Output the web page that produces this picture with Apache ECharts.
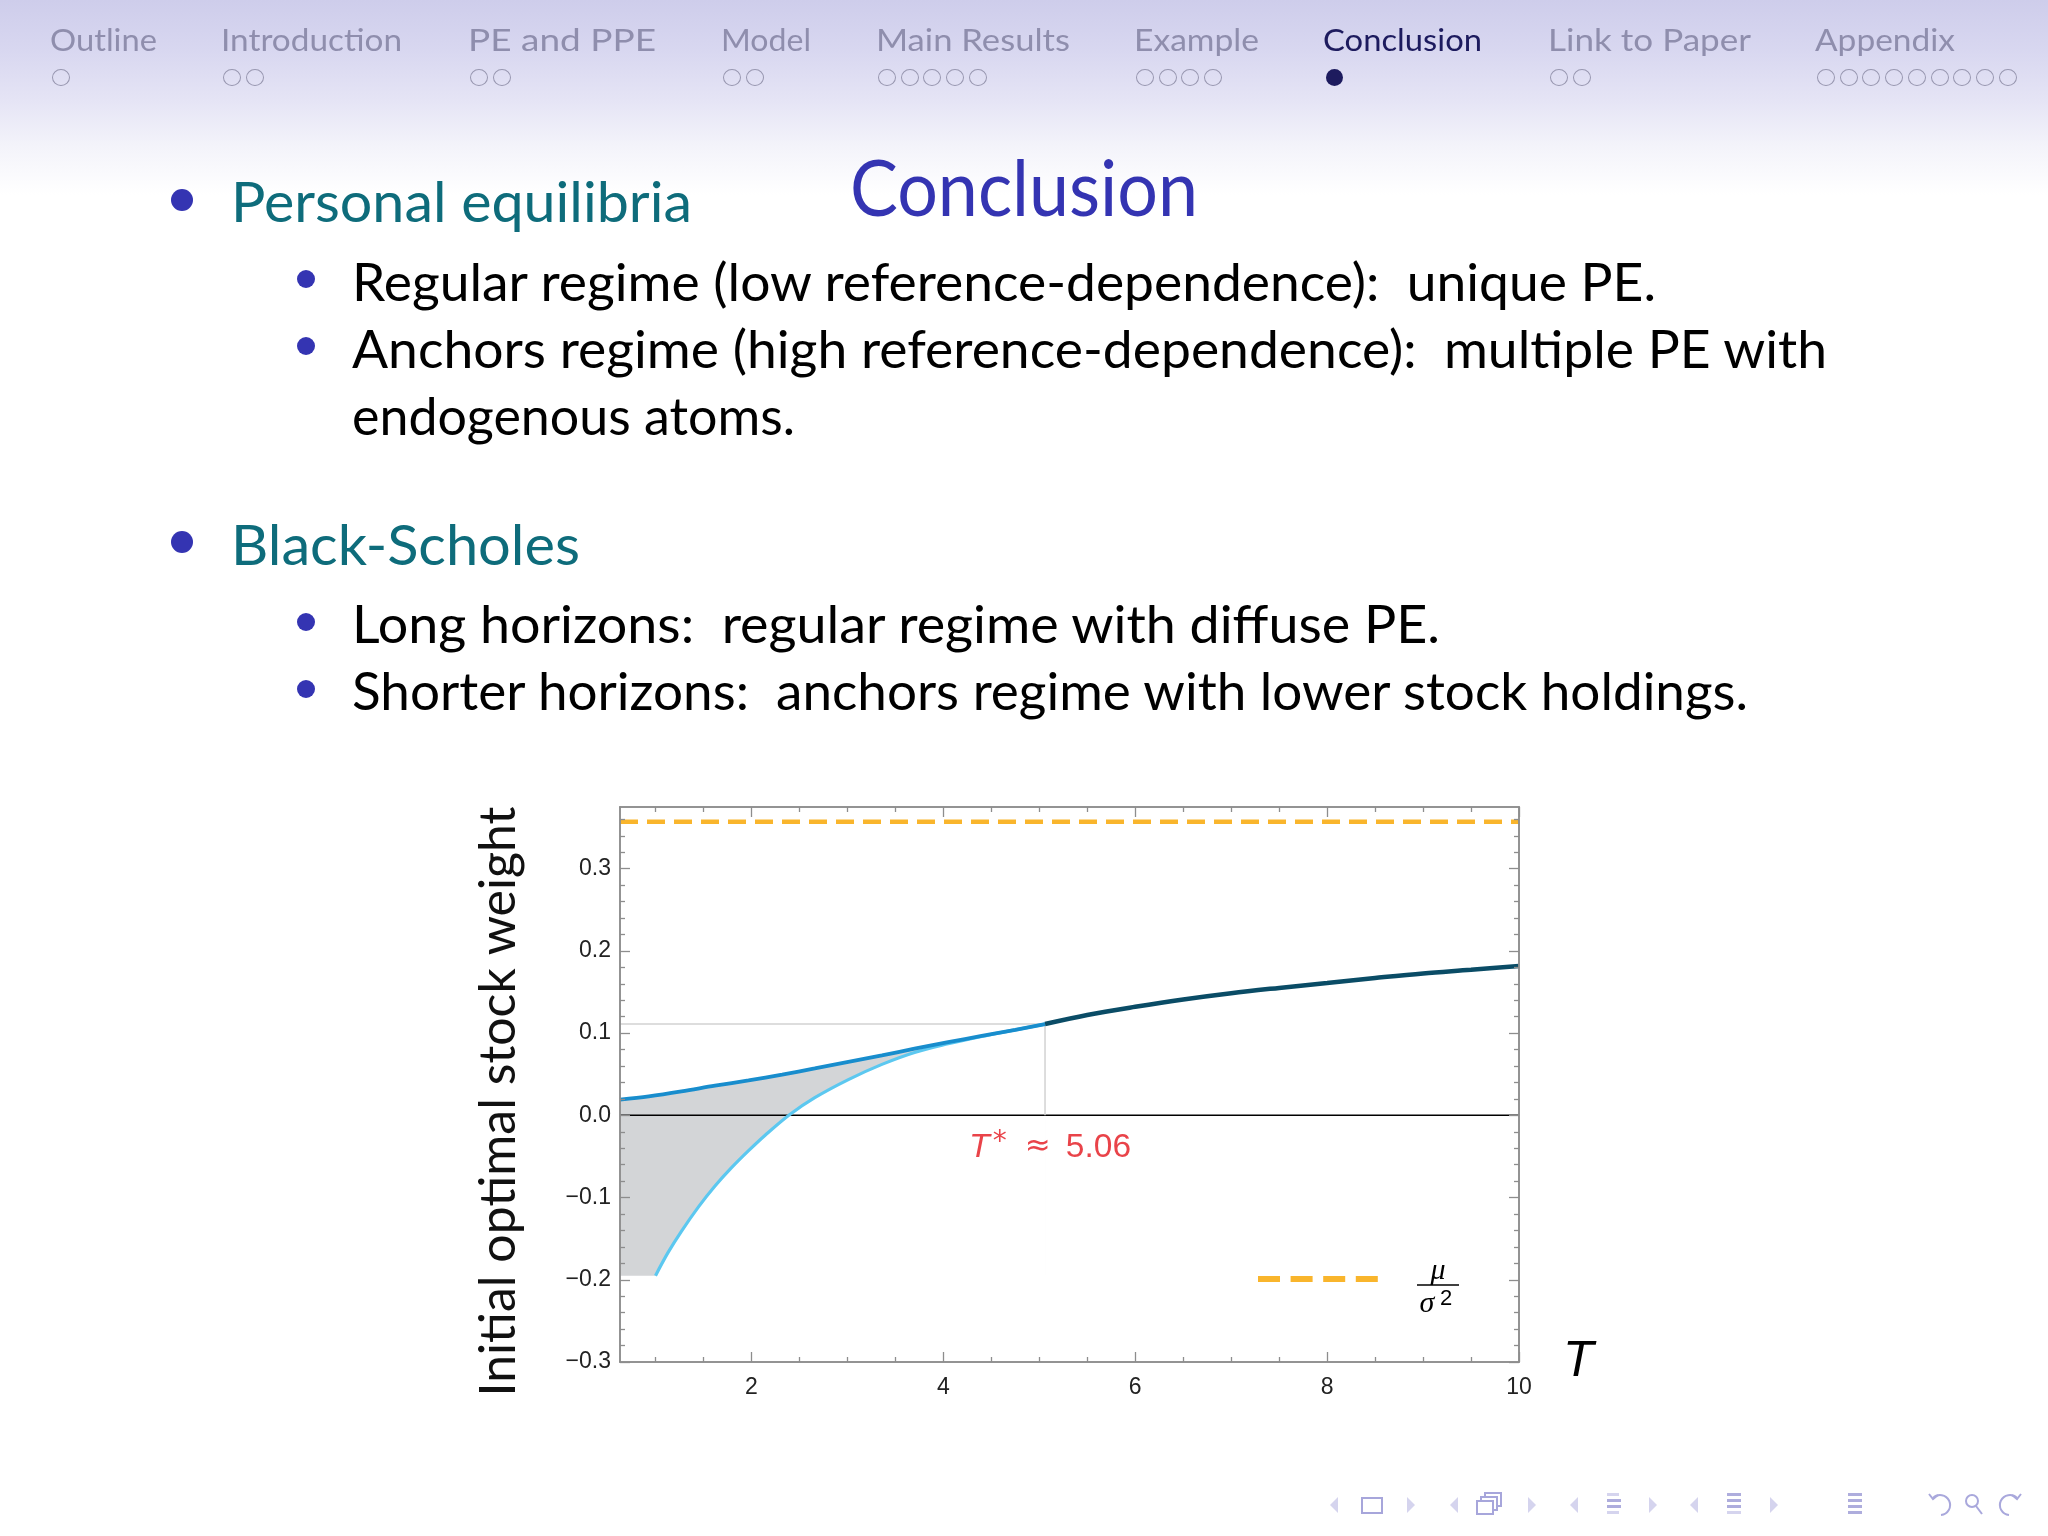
<!DOCTYPE html>
<html>
<head>
<meta charset="utf-8">
<script src="https://cdn.jsdelivr.net/npm/echarts@6.0.0/dist/echarts.min.js"></script>
<style>
html,body{margin:0;padding:0;}
body{width:2048px;height:1536px;position:relative;overflow:hidden;background:#fff;}
#hdr{position:absolute;left:0;top:0;width:2048px;height:200px;
 background:linear-gradient(to bottom,#cecdeb 0px,#d8d7f0 50px,#e5e4f5 100px,#f3f3fa 145px,#ffffff 195px);}
#chart{position:absolute;left:0;top:0;width:2048px;height:1536px;}
.txt{position:absolute;white-space:pre;transform-origin:0 0;font-family:Lato,'Noto Sans',sans-serif;}
.dot{position:absolute;border-radius:50%;box-sizing:border-box;}
</style>
</head>
<body>
<div id="hdr"></div>
<div id="chart"></div>
<svg id="foot" width="2048" height="1536" style="position:absolute;left:0;top:0;pointer-events:none">
  <g fill="#d5d4ee">
    <polygon points="1338,1497 1330,1505 1338,1513"/>
    <polygon points="1407,1497 1415,1505 1407,1513"/>
    <polygon points="1458,1497 1450,1505 1458,1513"/>
    <polygon points="1528,1497 1536,1505 1528,1513"/>
    <polygon points="1578,1497 1570,1505 1578,1513"/>
    <polygon points="1649,1497 1657,1505 1649,1513"/>
    <polygon points="1698,1497 1690,1505 1698,1513"/>
    <polygon points="1770,1497 1778,1505 1770,1513"/>
  </g>
  <g fill="none" stroke="#a7a6db" stroke-width="2">
    <rect x="1362" y="1498" width="20" height="15"/>
    <rect x="1485" y="1493" width="16" height="13"/>
    <rect x="1481" y="1497" width="16" height="13" fill="#fff"/>
    <rect x="1477" y="1501" width="16" height="13" fill="#fff"/>
  </g>
  <g fill="#aeaddd">
    <rect x="1607" y="1493" width="12" height="3" fill="#d5d4ee"/>
    <rect x="1607" y="1499" width="14" height="3"/>
    <rect x="1607" y="1505" width="14" height="3"/>
    <rect x="1607" y="1511" width="12" height="3" fill="#d5d4ee"/>
    <rect x="1727" y="1493" width="14" height="3"/>
    <rect x="1727" y="1499" width="14" height="3"/>
    <rect x="1727" y="1505" width="14" height="3"/>
    <rect x="1727" y="1511" width="14" height="3" fill="#d5d4ee"/>
    <rect x="1848" y="1493" width="14" height="3"/>
    <rect x="1848" y="1499" width="14" height="3"/>
    <rect x="1848" y="1505" width="14" height="3"/>
    <rect x="1848" y="1511" width="14" height="3"/>
  </g>
  <g fill="none" stroke="#a9a8dc" stroke-width="2">
    <path d="M1933,1498 A10,10 0 1 1 1941,1515"/>
    <path d="M1929,1494 L1933,1499 L1938,1495"/>
    <circle cx="1972" cy="1501" r="6"/>
    <path d="M1976,1506 L1982,1514"/>
    <path d="M2017,1498 A10,10 0 1 0 2009,1515"/>
    <path d="M2021,1494 L2017,1499 L2012,1495"/>
  </g>
</svg>
<script>
// ---------------- chart data ----------------
const upperT = [0.63, 0.93, 1.27, 1.62, 1.97, 2.32, 2.66, 3.01, 3.36, 3.70, 4.05, 4.40, 4.75, 5.06];
const upperW = [0.019, 0.023, 0.029, 0.036, 0.0425, 0.0495, 0.057, 0.065, 0.073, 0.081, 0.089, 0.0965, 0.104, 0.111];
const lowerT = [1.0, 1.13, 1.27, 1.45, 1.62, 1.79, 1.97, 2.14, 2.40, 2.66, 3.01, 3.36, 3.70, 4.05, 4.40, 4.75, 5.06];
const lowerW = [-0.195, -0.167, -0.141, -0.111, -0.086, -0.064, -0.043, -0.0245, 0.001, 0.0215, 0.0435, 0.062, 0.0765, 0.087, 0.096, 0.104, 0.111];
const darkT = [5.06, 5.5, 6, 6.5, 7, 7.5, 8, 8.5, 9, 9.5, 10];
const darkW = [0.111, 0.122, 0.132, 0.141, 0.1486, 0.155, 0.161, 0.167, 0.1726, 0.177, 0.1817];
const muOverSigma2 = 0.357;
const Tstar = 5.06;
const Wstar = 0.111;
const shadeFloor = -0.195;
const xRange = [0.63, 10];
const yRange = [-0.3, 0.375];
const xMajorTicks = [2, 4, 6, 8, 10];
const xMinorTicks = [1, 1.5, 2.5, 3, 3.5, 4.5, 5, 5.5, 6.5, 7, 7.5, 8.5, 9, 9.5];
const yMajorTicks = [-0.3, -0.2, -0.1, 0, 0.1, 0.2, 0.3];
const yMinorTicks = [-0.28, -0.26, -0.24, -0.22, -0.18, -0.16, -0.14, -0.12, -0.08, -0.06, -0.04, -0.02,
  0.02, 0.04, 0.06, 0.08, 0.12, 0.14, 0.16, 0.18, 0.22, 0.24, 0.26, 0.28, 0.32, 0.34, 0.36];
const yAxisTitle = 'Initial optimal stock weight';
const xAxisTitle = 'T';

// ---------------- slide text ----------------
const navItems = ['Outline', 'Introduction', 'PE and PPE', 'Model', 'Main Results', 'Example', 'Conclusion', 'Link to Paper', 'Appendix'];
const navDots = [1, 2, 2, 2, 5, 4, 1, 2, 9];
const navActive = 6;
const navLeft = [50, 221, 468, 721, 876, 1134, 1323, 1548, 1815];
const navWidth = [107, 181, 188, 90, 194, 125, 159, 203, 140];

function addText(str, x, baseline, size, color, targetW, extra) {
  const d = document.createElement('div');
  d.className = 'txt';
  d.style.left = x + 'px';
  d.style.top = '0px';
  d.style.fontSize = size + 'px';
  d.style.lineHeight = Math.round(size * 1.3) + 'px';
  d.style.color = color;
  if (extra) d.style.cssText += extra;
  const s = document.createElement('span');
  s.textContent = str;
  d.appendChild(s);
  const m = document.createElement('span');
  m.style.cssText = 'display:inline-block;width:0;height:0;vertical-align:baseline;';
  d.appendChild(m);
  document.body.appendChild(d);
  const base = m.offsetTop;
  d.style.top = (baseline - base) + 'px';
  if (targetW) {
    const w = s.getBoundingClientRect().width;
    d.style.transform = 'scaleX(' + (targetW / w) + ')';
  }
  return d;
}
function addDot(cx, cy, w, h, fill, stroke) {
  const d = document.createElement('div');
  d.className = 'dot';
  d.style.left = (cx - w / 2) + 'px';
  d.style.top = (cy - h / 2) + 'px';
  d.style.width = w + 'px';
  d.style.height = h + 'px';
  if (fill) d.style.background = fill;
  if (stroke) d.style.border = '1.7px solid ' + stroke;
  document.body.appendChild(d);
}

navItems.forEach((name, i) => {
  const active = i === navActive;
  addText(name, navLeft[i], 51, 31, active ? '#1d1b5e' : '#8f8ead', navWidth[i]);
  for (let k = 0; k < navDots[i]; k++) {
    const cx = navLeft[i] + 11 + k * 22.7;
    if (active) addDot(cx, 77, 17, 17, '#1d1b5e', null);
    else addDot(cx, 77, 18, 17, null, '#9897b0');
  }
});

const blue = '#3434b2', teal = '#0e6c7b';
addText('Conclusion', 850, 216, 78, blue, 348);
addDot(182, 200, 22, 22, blue, null);
addText('Personal equilibria', 231, 222, 57, teal, 461);
addDot(306, 279, 18, 18, blue, null);
addText('Regular regime (low reference-dependence):  unique PE.', 352, 301, 52, '#000', 1304);
addDot(306, 346, 18, 18, blue, null);
addText('Anchors regime (high reference-dependence):  multiple PE with', 352, 368, 52, '#000', 1475);
addText('endogenous atoms.', 352, 435, 52, '#000', 443);
addDot(182, 542, 22, 22, blue, null);
addText('Black-Scholes', 231, 565, 57, teal, 349);
addDot(306, 622, 18, 18, blue, null);
addText('Long horizons:  regular regime with diffuse PE.', 352, 643, 52, '#000', 1088);
addDot(306, 689, 18, 18, blue, null);
addText('Shorter horizons:  anchors regime with lower stock holdings.', 352, 710, 52, '#000', 1396);

// ---------------- chart ----------------
const zip = (a, b) => a.map((v, i) => [v, b[i]]);
const frameColor = '#8d8d8d';
const labelFont = 'Liberation Sans';
const fmtY = v => (v < 0 ? '\u2212' : '') + Math.abs(v).toFixed(1);

const cv = document.createElement('canvas').getContext('2d');
cv.font = '100px Lato';
const yNameSize = 100 * 590 / cv.measureText(yAxisTitle).width;

function axis(kind, pos, ticks, len, labels) {
  const isX = kind === 'x';
  return {
    type: 'value', position: pos,
    min: isX ? xRange[0] : yRange[0], max: isX ? xRange[1] : yRange[1],
    z: 10, splitLine: { show: false },
    axisLine: { show: true, onZero: false, lineStyle: { color: frameColor, width: 1.5 } },
    axisTick: { show: true, inside: true, length: len, customValues: ticks, lineStyle: { color: frameColor, width: 1.3 } },
    axisLabel: labels ? Object.assign({ show: true, customValues: ticks, fontFamily: labelFont, fontSize: 23, color: '#222' }, labels) : { show: false }
  };
}

const xAxes = [
  Object.assign(axis('x', 'bottom', xMajorTicks, 10, { margin: 14, formatter: v => String(v) }), {
    name: xAxisTitle, nameLocation: 'end', nameGap: 44,
    nameTextStyle: { fontFamily: labelFont, fontStyle: 'italic', fontSize: 50, color: '#000', verticalAlign: 'middle', padding: [0, 0, 32, 0] }
  }),
  axis('x', 'bottom', xMinorTicks, 5, null),
  axis('x', 'top', xMajorTicks, 10, null),
  axis('x', 'top', xMinorTicks, 5, null)
];
const yAxes = [
  Object.assign(axis('y', 'left', yMajorTicks, 10, { margin: 9, formatter: fmtY }), {
    name: yAxisTitle, nameLocation: 'middle', nameRotate: 90, nameGap: 96,
    nameTextStyle: { fontFamily: 'Lato', fontSize: yNameSize, color: '#111', padding: [0, 34, 0, 0] }
  }),
  axis('y', 'left', yMinorTicks, 5, null),
  axis('y', 'right', yMajorTicks, 10, null),
  axis('y', 'right', yMinorTicks, 5, null)
];

const red = '#e3141c';
const orange = '#f9b52c';
const option = {
  animation: false,
  grid: { left: 620, right: 529, top: 807, bottom: 174, containLabel: false },
  xAxis: xAxes,
  yAxis: yAxes,
  series: [
    { name: 'shade', type: 'line', data: zip(upperT, upperW), smooth: 0.35, symbol: 'none', silent: true, z: 1,
      lineStyle: { width: 0 }, areaStyle: { color: '#d3d5d7', opacity: 1, origin: shadeFloor } },
    { name: 'unshade', type: 'line', data: zip(lowerT, lowerW), smooth: 0.35, symbol: 'none', silent: true, z: 2,
      lineStyle: { width: 0 }, areaStyle: { color: '#ffffff', opacity: 1, origin: shadeFloor - 0.004 } },
    { name: 'zero', type: 'line', data: [[xRange[0], 0], [xRange[1], 0]], symbol: 'none', silent: true, z: 3,
      lineStyle: { color: '#000', width: 1.5 } },
    { name: 'refH', type: 'line', data: [[xRange[0], Wstar], [Tstar, Wstar], [Tstar, 0]], symbol: 'none', silent: true, z: 3,
      lineStyle: { color: '#d2d2d2', width: 1.5 } },
    { name: 'mu/sigma2', type: 'line', data: [[xRange[0], muOverSigma2], [xRange[1], muOverSigma2]], symbol: 'none', silent: true, z: 4,
      lineStyle: { color: orange, width: 4.5, type: [18, 9] } },
    { name: 'lower', type: 'line', data: zip(lowerT, lowerW), smooth: 0.35, symbol: 'none', silent: true, z: 5,
      lineStyle: { color: '#5cc8f0', width: 3.2 } },
    { name: 'upper', type: 'line', data: zip(upperT, upperW), smooth: 0.35, symbol: 'none', silent: true, z: 6,
      lineStyle: { color: '#188dcd', width: 3.8 } },
    { name: 'dark', type: 'line', data: zip(darkT, darkW), smooth: 0.35, symbol: 'none', silent: true, z: 6,
      lineStyle: { color: '#0a4c66', width: 4.5 } },
    { name: 'Tstar', type: 'scatter', data: [[Tstar, 0]], symbolSize: 0, silent: true, z: 7,
      label: { show: true, position: 'bottom', distance: 12, offset: [5, 0],
        formatter: '{t|T}{s|*}{a|\u2248}{n|' + Tstar.toFixed(2) + '}',
        rich: {
          t: { fontFamily: labelFont, fontStyle: 'italic', fontSize: 34, color: red, lineHeight: 40 },
          s: { fontFamily: 'DejaVu Sans', fontSize: 28, color: red, lineHeight: 40, padding: [0, 0, 10, 3] },
          a: { fontFamily: 'DejaVu Sans', fontSize: 31, color: red, lineHeight: 40, padding: [0, 0, 0, 18] },
          n: { fontFamily: labelFont, fontSize: 33.5, color: red, lineHeight: 40, padding: [0, 0, 0, 15] }
        } } }
  ],
  graphic: [
    { type: 'line', z: 20, shape: { x1: 1258, y1: 1279, x2: 1378, y2: 1279 },
      style: { stroke: orange, lineWidth: 6, lineDash: [22, 10.6] } },
    { type: 'text', z: 20, x: 1438, y: 1271, style: { text: '\u03bc', fontFamily: 'Liberation Serif', fontStyle: 'italic', fontSize: 30, fill: '#000', align: 'center', verticalAlign: 'middle' } },
    { type: 'line', z: 20, shape: { x1: 1417, y1: 1285, x2: 1459, y2: 1285 }, style: { stroke: '#000', lineWidth: 1.4 } },
    { type: 'text', z: 20, x: 1427, y: 1304, style: { text: '\u03c3', fontFamily: 'Liberation Serif', fontStyle: 'italic', fontSize: 30, fill: '#000', align: 'center', verticalAlign: 'middle' } },
    { type: 'text', z: 20, x: 1446, y: 1299, style: { text: '2', fontFamily: labelFont, fontSize: 22, fill: '#000', align: 'center', verticalAlign: 'middle' } }
  ]
};
const chart = echarts.init(document.getElementById('chart'), null, { renderer: 'canvas' });
chart.setOption(option);
</script>
</body>
</html>
